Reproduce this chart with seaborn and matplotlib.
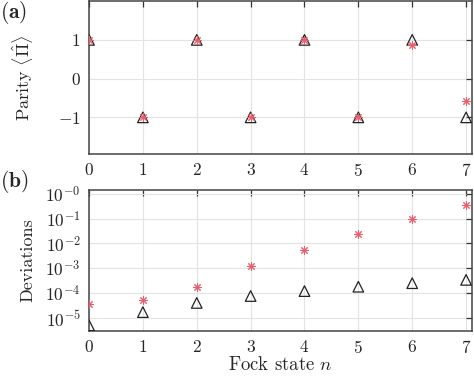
import numpy as np
import pandas as pd
import matplotlib
matplotlib.use("Agg")
import matplotlib.pyplot as plt
import seaborn as sns
from matplotlib.ticker import FixedLocator, FixedFormatter, NullLocator

# ── data ──────────────────────────────────────────────────────────────────────

fock_n = [0, 1, 2, 3, 4, 5, 6, 7]

# parity expectation value
parity_ideal = [1, -1, 1, -1, 1, -1, 1, -1]
parity_meas = [1, -1, 1, -1, 1, -1, 0.88, -0.59]

# deviations (log scale)
dev_tri = [5.0e-6, 1.7e-5, 4.0e-5, 7.6e-5, 1.2e-4, 1.8e-4, 2.5e-4, 3.4e-4]
dev_star = [3.6e-5, 5.2e-5, 1.7e-4, 1.2e-3, 5.2e-3, 2.5e-2, 1.0e-1, 3.6e-1]

xtick_labels = ["$%d$" % v for v in fock_n]
dev_ticks = [1e-5, 1e-4, 1e-3, 1e-2, 1e-1, 1e0]
dev_tick_labels = ["$10^{-5}$", "$10^{-4}$", "$10^{-3}$", "$10^{-2}$",
                   "$10^{-1}$", "$10^{-0}$"]

df_a = pd.DataFrame({"n": fock_n, "ideal": parity_ideal, "meas": parity_meas})
df_b = pd.DataFrame({"n": fock_n, "tri": dev_tri, "star": dev_star})

# ── style ─────────────────────────────────────────────────────────────────────

sns.set_style("white")
plt.rcParams["font.family"] = ["cmr10", "DejaVu Serif"]
plt.rcParams["mathtext.fontset"] = "cm"
plt.rcParams["axes.unicode_minus"] = False
plt.rcParams["axes.formatter.use_mathtext"] = True

star_color = "#e8606b"
star_marker = (8, 2, 0)
grid_kw = dict(color="#e3e3e3", linewidth=0.8)

fig = plt.figure(figsize=(4.74, 3.76), dpi=100)
ax_a = fig.add_axes([0.1878, 0.590, 0.8080, 0.407])
ax_b = fig.add_axes([0.1878, 0.1197, 0.8080, 0.3753])

# ── (a) parity ────────────────────────────────────────────────────────────────

sns.scatterplot(data=df_a, x="n", y="ideal", ax=ax_a, marker="^", s=58,
                facecolor="none", edgecolor="#222222", linewidth=0.9,
                zorder=3, legend=False)
sns.scatterplot(data=df_a, x="n", y="meas", ax=ax_a, marker=star_marker, s=30,
                color=star_color, linewidth=0.75, zorder=4, legend=False)

ax_a.set_xlim(0, 7.11)
ax_a.set_ylim(-1.95, 2.0)
ax_a.yaxis.set_major_locator(FixedLocator([-1, 0, 1]))
ax_a.yaxis.set_major_formatter(FixedFormatter(["$-1$", "$0$", "$1$"]))
ax_a.xaxis.set_major_locator(FixedLocator(fock_n))
ax_a.xaxis.set_major_formatter(FixedFormatter(xtick_labels))
ax_a.set_xlabel("")
ax_a.set_ylabel(r"Parity $\langle\hat{\Pi}\rangle$", fontsize=13)
ax_a.yaxis.set_label_coords(-0.14, 0.5)

# ── (b) deviations ────────────────────────────────────────────────────────────

sns.scatterplot(data=df_b, x="n", y="tri", ax=ax_b, marker="^", s=58,
                facecolor="none", edgecolor="#222222", linewidth=0.9,
                zorder=3, legend=False)
sns.scatterplot(data=df_b, x="n", y="star", ax=ax_b, marker=star_marker, s=30,
                color=star_color, linewidth=0.75, zorder=4, legend=False)

ax_b.set_yscale("log")
ax_b.set_xlim(0, 7.11)
ax_b.set_ylim(10 ** -5.53, 10 ** 0.16)
ax_b.yaxis.set_major_locator(FixedLocator(dev_ticks))
ax_b.yaxis.set_major_formatter(FixedFormatter(dev_tick_labels))
ax_b.yaxis.set_minor_locator(NullLocator())
ax_b.xaxis.set_major_locator(FixedLocator(fock_n))
ax_b.xaxis.set_major_formatter(FixedFormatter(xtick_labels))
ax_b.set_xlabel("Fock state $n$", fontsize=13.5, labelpad=0)
ax_b.set_ylabel("Deviations", fontsize=13)
ax_b.yaxis.set_label_coords(-0.14, 0.5)

for ax in (ax_a, ax_b):
    ax.grid(True, **grid_kw)
    ax.set_axisbelow(True)
    ax.tick_params(axis="both", which="major", direction="in", length=4,
                   width=0.9, labelsize=12.5, top=True, right=True,
                   color="#333333", pad=6)
    for sp in ax.spines.values():
        sp.set_color("#444444")
        sp.set_linewidth(1.1)

fig.text(0.001, 0.966, r"$\mathbf{(a)}$", fontsize=15.5, ha="left", va="center")
fig.text(0.001, 0.516, r"$\mathbf{(b)}$", fontsize=15.5, ha="left", va="center")

fig.savefig("out.png", dpi=100)
plt.close(fig)
